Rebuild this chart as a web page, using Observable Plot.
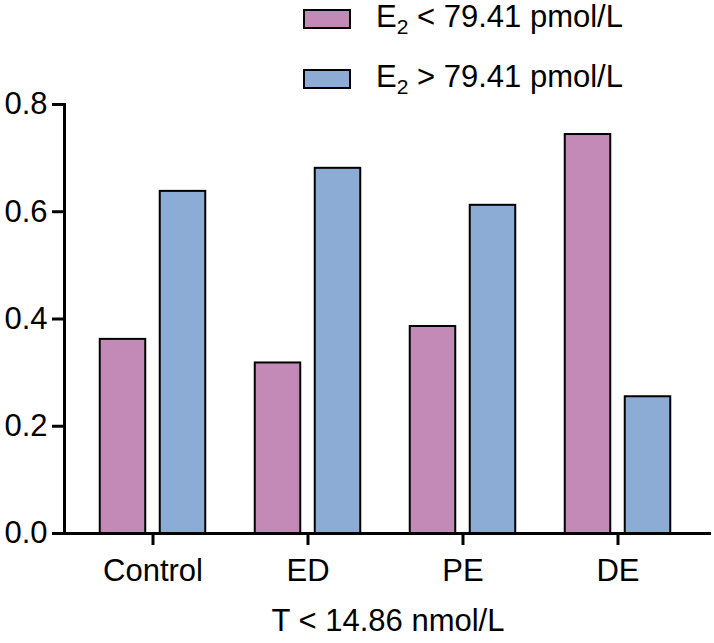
<!DOCTYPE html>
<html>
<head>
<meta charset="utf-8">
<script src="https://cdn.jsdelivr.net/npm/d3@7"></script>
<script src="https://cdn.jsdelivr.net/npm/@observablehq/plot@0.6"></script>
<style>
  body { margin: 0; background: #fff; font-family: "Liberation Sans", Arial, sans-serif; }
  #chart { position: relative; width: 714px; height: 643px; }
  .swatch { position: absolute; width: 48px; height: 20px; box-sizing: border-box; border: 2px solid #000; }
  .entry { position: absolute; font-size: 31px; line-height: 31px; white-space: nowrap; color: #000; }
  .entry sub { font-size: 21px; vertical-align: baseline; position: relative; top: 7px; }
</style>
</head>
<body>
<div id="chart"></div>
<script>
// categorias del eje x
const groups = ["Control", "ED", "PE", "DE"]
// proporciones
const lowE2 = [0.362, 0.318, 0.386, 0.744]
const highE2 = [0.638, 0.681, 0.612, 0.255]
const seriesLabels = ["E<sub>2</sub> &lt; 79.41 pmol/L", "E<sub>2</sub> &gt; 79.41 pmol/L"]
const seriesColors = ["#c38ab8", "#8cacd5"]
const yTicks = [0, 0.2, 0.4, 0.6, 0.8]
const xTitle = "T < 14.86 nmol/L"

let rows = groups.flatMap((g, i) => [
  {group: g, serie: 0, value: lowE2[i]},
  {group: g, serie: 1, value: highE2[i]}
])

let chart = Plot.plot({
  width: 714,
  height: 643,
  marginLeft: 64,
  marginRight: 3,
  marginTop: 104,
  marginBottom: 110,
  style: {fontFamily: "Liberation Sans, Arial, sans-serif", color: "black", background: "white"},
  x: {domain: groups, padding: 0.166, align: 0.45},
  y: {domain: [0, 0.8]},
  marks: [
    Plot.barY(rows.filter(d => d.serie == 0), {
      x: "group", y: "value", fill: seriesColors[0],
      stroke: "black", strokeWidth: 2, insetLeft: 11.75, insetRight: 71.75
    }),
    Plot.barY(rows.filter(d => d.serie == 1), {
      x: "group", y: "value", fill: seriesColors[1],
      stroke: "black", strokeWidth: 2, insetLeft: 71.75, insetRight: 11.75
    }),
    Plot.axisY({
      ticks: yTicks, tickFormat: d3.format(".1f"), tickSize: 12, tickPadding: 5,
      fontSize: 31, strokeWidth: 3, label: null, color: "black"
    }),
    Plot.axisX({
      tickSize: 12, tickPadding: 13, fontSize: 31, strokeWidth: 3, label: null, color: "black"
    }),
    Plot.frame({anchor: "left", strokeWidth: 3}),
    Plot.ruleY([0], {strokeWidth: 3}),
    Plot.text([xTitle], {frameAnchor: "bottom", text: d => d, dy: 97, fontSize: 31, fill: "black"})
  ]
})

d3.select("#chart").append(() => chart)

// leyenda arriba a la derecha
let legend = d3.select("#chart")
seriesLabels.forEach((lab, i) => {
  legend.append("div").attr("class", "swatch")
    .style("left", "303px").style("top", (9 + 60 * i) + "px")
    .style("background", seriesColors[i])
  legend.append("div").attr("class", "entry")
    .style("left", "376px").style("top", (1 + 60 * i) + "px")
    .html(lab)
})
</script>
</body>
</html>
